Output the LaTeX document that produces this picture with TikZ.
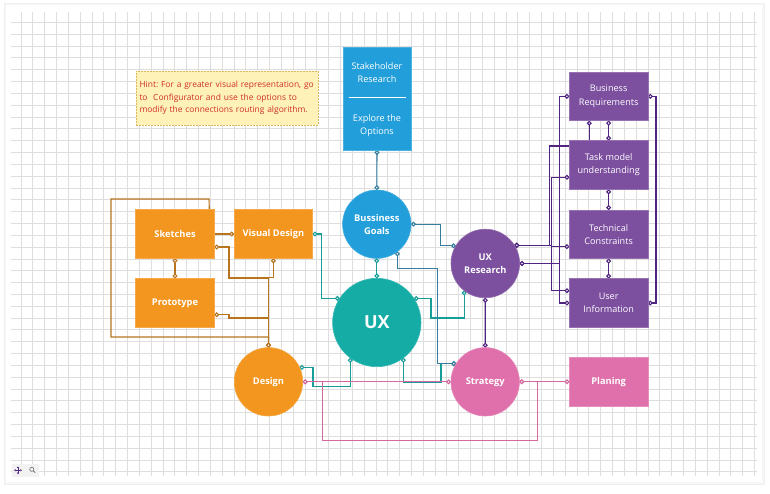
\documentclass[tikz,border=0pt]{standalone}
\usepackage{fontspec}
\setmainfont{Open Sans}
\usetikzlibrary{arrows.meta,calc}
\pgfdeclarelayer{back}
\pgfdeclarelayer{links}
\pgfsetlayers{back,links,main}
\definecolor{cblue}{HTML}{229FDA}
\definecolor{cteal}{HTML}{15ACA6}
\definecolor{corange}{HTML}{F2961F}
\definecolor{cpurple}{HTML}{7C4F9F}
\definecolor{cpink}{HTML}{E070AB}
\definecolor{lorange}{HTML}{B8741F}
\definecolor{lteal}{HTML}{189E99}
\definecolor{lblue}{HTML}{347D9E}
\definecolor{lpurple}{HTML}{4F2580}
\definecolor{lpink}{HTML}{D4679E}
\definecolor{gridc}{HTML}{DEDEDE}
\definecolor{hintfill}{HTML}{FFF2B8}
\definecolor{hintborder}{HTML}{D9B85E}
\definecolor{hintred}{HTML}{D0302A}
\tikzset{
  port/.tip={Circle[fill=white,length=4.8pt,width=4.8pt]},
  conn/.style={line width=1.1pt},
  oline/.style={conn,draw=lorange},
  tline/.style={conn,draw=lteal},
  bline/.style={conn,draw=lblue},
  pline/.style={conn,draw=lpurple},
  kline/.style={conn,draw=lpink},
  boxnode/.style={rectangle, fill=#1, draw=#1!80!white, line width=0.8pt, minimum width=78.6pt, minimum height=48.8pt, inner sep=0, outer sep=0, align=center, text=white},
  boldlbl/.style={font=\bfseries\fontsize{9.3}{13}\selectfont},
  reglbl/.style={font=\fontsize{9.1}{13.2}\selectfont},
  circnode/.style={circle, fill=#1, draw=#1!85!white, line width=0.6pt, minimum size=68.4pt, inner sep=0, outer sep=0, align=center, text=white, boldlbl},
  hintbox/.style={rectangle, draw=hintborder, dash pattern=on 1.6pt off 1.4pt, line width=0.7pt, fill=hintfill, minimum width=182pt, minimum height=54pt, text width=175pt, align=left, text=hintred, inner sep=0, font=\fontsize{8.45}{12.6}\selectfont}
}
\frenchspacing
\begin{document}
\begin{tikzpicture}[x=1pt,y=-1pt]
\useasboundingbox (0,0) rectangle (770,494);
\begin{pgfonlayer}{back}
% panel
\fill[white] (0,0) rectangle (770,494);
\fill[black!6] (3.5,3.5) rectangle (764.5,485);
\fill[black!3] (4.5,4.5) rectangle (763.5,484);
\fill[white] (5.5,5.5) rectangle (762,482);
% grid
\foreach \k in {0,...,62} {\draw[gridc,line width=0.8pt] (21+11.83*\k,12) -- (21+11.83*\k,476);}
\foreach \k in {0,...,38} {\draw[gridc,line width=0.8pt] (11,22.3+11.83*\k) -- (757,22.3+11.83*\k);}
\end{pgfonlayer}

% nodes
\node[boxnode=cblue, minimum width=68pt, minimum height=103pt] (sh) at (377,98.5) {};
\node[circnode=cblue] (bg) at (376.8,224.2) {Bussiness\\Goals};
\node[circnode=cteal, minimum size=88.4pt, font=\bfseries\fontsize{18}{22}\selectfont] (ux) at (376.8,322.5) {UX};
\node[circnode=cpurple, minimum size=68.6pt] (uxr) at (485.3,263.5) {UX\\Research};
\node[circnode=cpink] (st) at (485.2,381.8) {Strategy};
\node[circnode=corange] (de) at (268.5,381.8) {Design};
\node[boxnode=cpink, boldlbl] (pl) at (608.65,381.8) {Planing};
\node[boxnode=cpurple, reglbl] (br) at (608.65,96.35) {Business\\Requirements};
\node[boxnode=cpurple, reglbl] (tm) at (608.65,165) {Task model\\understanding};
\node[boxnode=cpurple, reglbl] (tc) at (608.65,234.35) {Technical\\Constraints};
\node[boxnode=cpurple, reglbl] (ui) at (608.65,303) {User\\Information};
\node[boxnode=corange, boldlbl] (sk) at (175,234) {Sketches};
\node[boxnode=corange, boldlbl] (vd) at (273.35,234) {Visual Design};
\node[boxnode=corange, boldlbl] (pr) at (175,302.8) {Prototype};

\begin{pgfonlayer}{links}
% orange
\draw[oline] ([xshift=-5pt]sk.north east) -- (209,199) -- (111,199) -- (111,337) -| (de.north);
\draw[oline,-port] (sk.east) -- (vd.west);
\draw[oline,port-port] ([yshift=-13pt]sk.east) -| (229,278) -| (de.north);
\draw[oline,port-port] (vd.south) -- ++(0,19) -| (de.north);
\draw[oline,port-port] ([yshift=-12pt]pr.east) -| (229,318) -| (de.north);
\draw[oline,port-port] (sk.south) -- (pr.north);
% teal
\draw[tline,port-port] (vd.east) -| ($(ux.147)+(-18,0)$) -- (ux.147);
\draw[tline,port-port] (bg.south) -- (ux.north);
\draw[tline,port-port] (ux.33) -| (431,318) -| (uxr.232);
\draw[tline,port-port] (ux.233) |- (313,386.5) |- (de.25);
\draw[tline,port-port] (ux.-53) |- (441,382.3) |- (st.148);
% steel blue
\draw[bline,port-port] (sh.south) -- (bg.north);
\draw[bline,port-port] (bg.east) -| ($(uxr.149)+(-15,0)$) -- (uxr.149);
\draw[bline,port-port] (bg.-53) |- (437.5,268.3) |- (st.148);
% purple
\draw[pline,port-port] (uxr.south) -- (st.north);
\draw[pline,port-port] (uxr.32) -| (549.3,146) -| ([xshift=-19.4pt]br.south);
\draw[pline,port-port] (uxr.32) -| ($([yshift=-12.3pt]tm.west)+(-18,0)$) -- ([yshift=-12.3pt]tm.west);
\draw[pline,port-port] (uxr.32) -| ($([yshift=-12.3pt]tc.west)+(-18,0)$) -- ([yshift=-12.3pt]tc.west);
\draw[pline,port-port] (uxr.32) -| ($([yshift=12.3pt]ui.west)+(-18,0)$) -- ([yshift=12.3pt]ui.west);
\draw[pline,port-port] (uxr.east) -| ($(br.west)+(-10,0)$) -- (br.west);
\draw[pline,port-port] (uxr.east) -| ($(ui.west)+(-10,0)$) -- (ui.west);
\draw[pline,port-port] (br.south) -- (tm.north);
\draw[pline,port-port] (tm.south) -- (tc.north);
\draw[pline,port-port] (tc.south) -- (ui.north);
\draw[pline,port-port] (br.east) -| ($(ui.east)+(8,0)$) -- (ui.east);
% pink
\draw[kline,port-port] (de.east) -- (st.west);
\draw[kline,port-port] (st.east) -- (pl.west);
\draw[kline,port-port] (st.east) -- ++(18,0) |- (322.7,440.3) |- (de.east);
\end{pgfonlayer}

% stakeholder texts
\draw[white,line width=0.8pt] (349,97.4) -- (405.5,97.4);
\node[reglbl,text=white,align=center] (sht1) at (377,72.8) {Stakeholder\\Research};
\node[reglbl,text=white,align=center] (sht2) at (377,125.8) {Explore the\\Options};

% hint
\node[hintbox] (hint) at (227,98) {Hint: For a greater visual representation, go\\to\ \ Configurator and use the options to\\modify the connections routing algorithm.};

% toolbar
\fill[black!5] (11.5,464) rectangle (38.5,476.5);
\draw[lpurple,line width=0.8pt,{Triangle[length=1.4pt,width=2.2pt]}-{Triangle[length=1.4pt,width=2.2pt]}] (14.2,470.3) -- (21.8,470.3);
\draw[lpurple,line width=0.8pt,{Triangle[length=1.4pt,width=2.2pt]}-{Triangle[length=1.4pt,width=2.2pt]}] (18,466.5) -- (18,474.1);
\draw[black!55,line width=0.6pt] (31.8,469.3) circle (2.1);
\draw[black!55,line width=0.8pt] (33.3,470.8) -- (35.2,472.7);
\end{tikzpicture}
\end{document}
